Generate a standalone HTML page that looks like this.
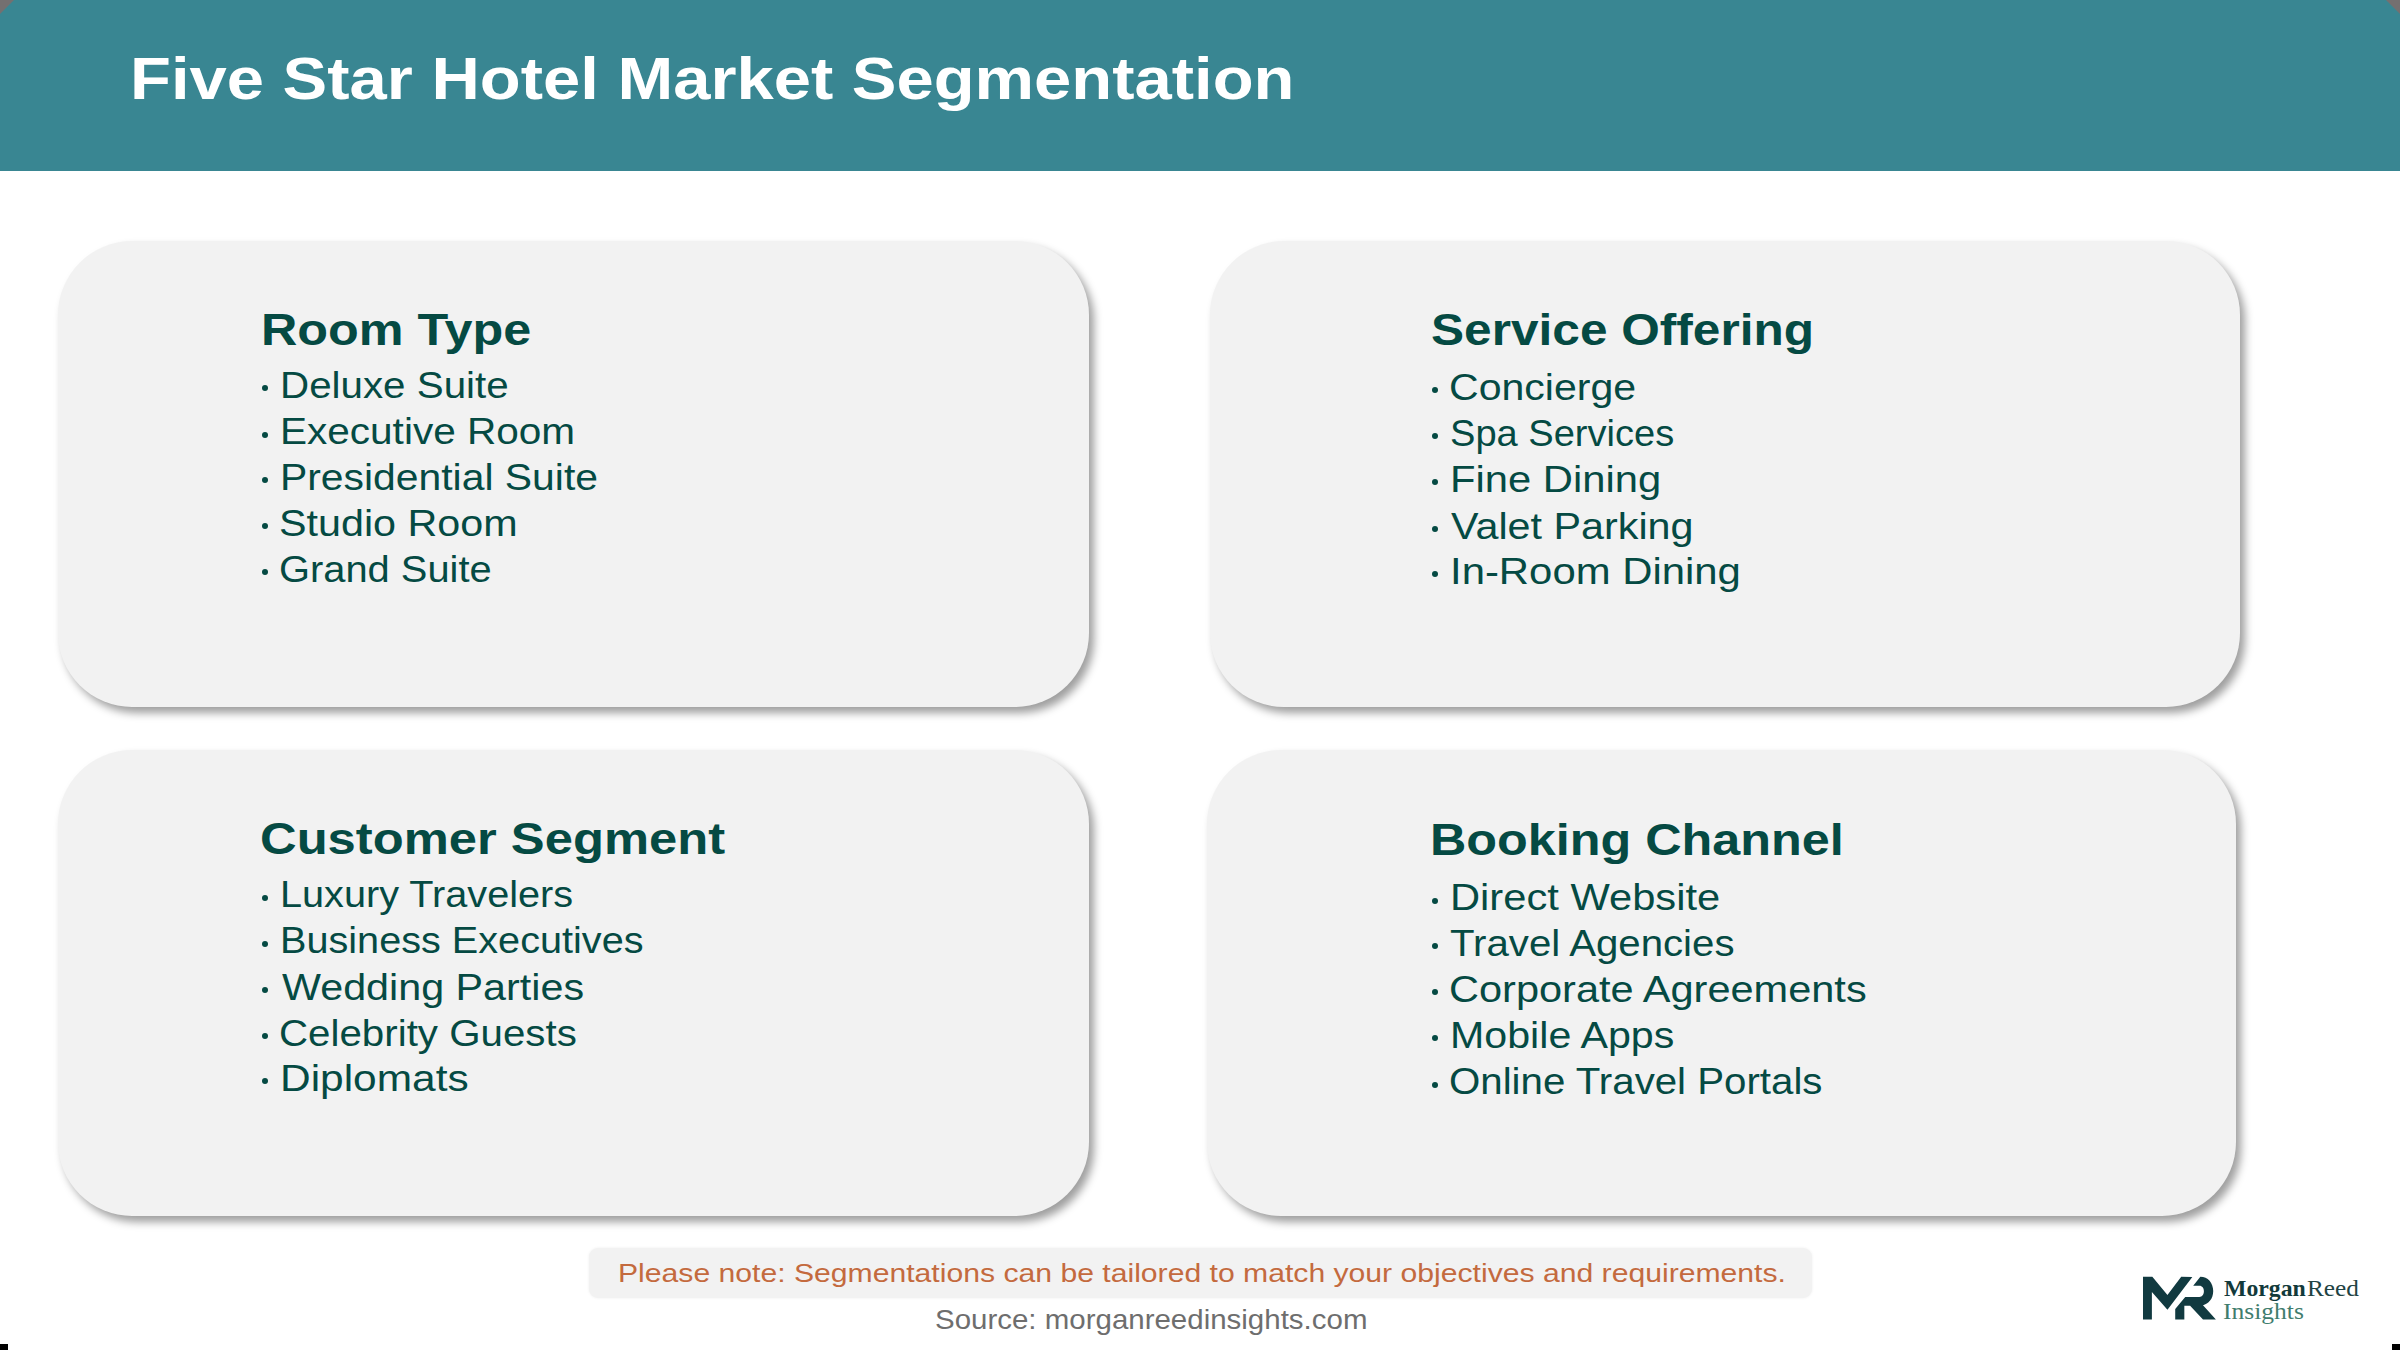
<!DOCTYPE html>
<html><head><meta charset="utf-8"><style>
html,body{margin:0;padding:0;}
body{width:2400px;height:1350px;position:relative;overflow:hidden;background:#fff;font-family:"Liberation Sans",sans-serif;}
.t{position:absolute;white-space:nowrap;transform-origin:0 0;}
.card{position:absolute;background:#f2f2f2;border-radius:74px;box-shadow:5px 6px 8px rgba(0,0,0,0.38);}
.dot{position:absolute;width:6px;height:6px;border-radius:50%;background:#054a43;}
.note{position:absolute;left:589px;top:1248px;width:1223px;height:50px;background:#f2f2f2;border-radius:9px;box-shadow:0 0 3px rgba(0,0,0,0.07);}
</style></head><body>
<div style="position:absolute;left:0;top:0;width:2400px;height:171px;background:#398692"></div>
<div class="t" style="left:130.2px;top:49px;font-family:'Liberation Sans',sans-serif;font-weight:bold;font-size:59.5px;line-height:59.5px;color:#ffffff;transform:scaleX(1.1252);">Five Star Hotel Market Segmentation</div>
<div class="card" style="left:58px;top:241px;width:1031px;height:466px"></div>
<div class="card" style="left:1210px;top:241px;width:1030px;height:466px"></div>
<div class="card" style="left:58px;top:750px;width:1031px;height:466px"></div>
<div class="card" style="left:1207px;top:750px;width:1029px;height:466px"></div>
<div class="t" style="left:260.65px;top:306.6px;font-family:'Liberation Sans',sans-serif;font-weight:bold;font-size:45px;line-height:45px;color:#054a43;transform:scaleX(1.1177);">Room Type</div>
<div class="t" style="left:1430.5px;top:306.6px;font-family:'Liberation Sans',sans-serif;font-weight:bold;font-size:45px;line-height:45px;color:#054a43;transform:scaleX(1.102);">Service Offering</div>
<div class="t" style="left:259.95px;top:816.4px;font-family:'Liberation Sans',sans-serif;font-weight:bold;font-size:45px;line-height:45px;color:#054a43;transform:scaleX(1.1273);">Customer Segment</div>
<div class="t" style="left:1430.45px;top:817px;font-family:'Liberation Sans',sans-serif;font-weight:bold;font-size:45px;line-height:45px;color:#054a43;transform:scaleX(1.1179);">Booking Channel</div>
<div class="t" style="left:280.07px;top:366.8px;font-family:'Liberation Sans',sans-serif;font-weight:normal;font-size:37.5px;line-height:37.5px;color:#054a43;transform:scaleX(1.0755);">Deluxe Suite</div>
<div class="dot" style="left:262.2px;top:385.0px"></div>
<div class="t" style="left:280.06px;top:413.4px;font-family:'Liberation Sans',sans-serif;font-weight:normal;font-size:37.5px;line-height:37.5px;color:#054a43;transform:scaleX(1.0806);">Executive Room</div>
<div class="dot" style="left:262.2px;top:431.6px"></div>
<div class="t" style="left:280.03px;top:459px;font-family:'Liberation Sans',sans-serif;font-weight:normal;font-size:37.5px;line-height:37.5px;color:#054a43;transform:scaleX(1.0895);">Presidential Suite</div>
<div class="dot" style="left:262.2px;top:477.2px"></div>
<div class="t" style="left:279.4px;top:505px;font-family:'Liberation Sans',sans-serif;font-weight:normal;font-size:37.5px;line-height:37.5px;color:#054a43;transform:scaleX(1.1005);">Studio Room</div>
<div class="dot" style="left:262.2px;top:523.2px"></div>
<div class="t" style="left:279.47px;top:550.8px;font-family:'Liberation Sans',sans-serif;font-weight:normal;font-size:37.5px;line-height:37.5px;color:#054a43;transform:scaleX(1.0629);">Grand Suite</div>
<div class="dot" style="left:262.2px;top:569.0px"></div>
<div class="t" style="left:1449.41px;top:369px;font-family:'Liberation Sans',sans-serif;font-weight:normal;font-size:37.5px;line-height:37.5px;color:#054a43;transform:scaleX(1.0946);">Concierge</div>
<div class="dot" style="left:1432.2px;top:387.2px"></div>
<div class="t" style="left:1449.57px;top:414.6px;font-family:'Liberation Sans',sans-serif;font-weight:normal;font-size:37.5px;line-height:37.5px;color:#054a43;transform:scaleX(1.0151);">Spa Services</div>
<div class="dot" style="left:1432.2px;top:432.8px"></div>
<div class="t" style="left:1449.96px;top:461px;font-family:'Liberation Sans',sans-serif;font-weight:normal;font-size:37.5px;line-height:37.5px;color:#054a43;transform:scaleX(1.1136);">Fine Dining</div>
<div class="dot" style="left:1432.2px;top:479.2px"></div>
<div class="t" style="left:1451.0px;top:508px;font-family:'Liberation Sans',sans-serif;font-weight:normal;font-size:37.5px;line-height:37.5px;color:#054a43;transform:scaleX(1.1009);">Valet Parking</div>
<div class="dot" style="left:1432.2px;top:526.2px"></div>
<div class="t" style="left:1449.95px;top:553px;font-family:'Liberation Sans',sans-serif;font-weight:normal;font-size:37.5px;line-height:37.5px;color:#054a43;transform:scaleX(1.1165);">In-Room Dining</div>
<div class="dot" style="left:1432.2px;top:571.2px"></div>
<div class="t" style="left:280.13px;top:876.3px;font-family:'Liberation Sans',sans-serif;font-weight:normal;font-size:37.5px;line-height:37.5px;color:#054a43;transform:scaleX(1.0575);">Luxury Travelers</div>
<div class="dot" style="left:262.2px;top:894.5px"></div>
<div class="t" style="left:280.13px;top:922.3px;font-family:'Liberation Sans',sans-serif;font-weight:normal;font-size:37.5px;line-height:37.5px;color:#054a43;transform:scaleX(1.0571);">Business Executives</div>
<div class="dot" style="left:262.2px;top:940.5px"></div>
<div class="t" style="left:281.6px;top:968.6px;font-family:'Liberation Sans',sans-serif;font-weight:normal;font-size:37.5px;line-height:37.5px;color:#054a43;transform:scaleX(1.1004);">Wedding Parties</div>
<div class="dot" style="left:262.2px;top:986.8px"></div>
<div class="t" style="left:279.45px;top:1014.6px;font-family:'Liberation Sans',sans-serif;font-weight:normal;font-size:37.5px;line-height:37.5px;color:#054a43;transform:scaleX(1.0745);">Celebrity Guests</div>
<div class="dot" style="left:262.2px;top:1032.8px"></div>
<div class="t" style="left:279.9px;top:1060px;font-family:'Liberation Sans',sans-serif;font-weight:normal;font-size:37.5px;line-height:37.5px;color:#054a43;transform:scaleX(1.1319);">Diplomats</div>
<div class="dot" style="left:262.2px;top:1078.2px"></div>
<div class="t" style="left:1449.97px;top:879.4px;font-family:'Liberation Sans',sans-serif;font-weight:normal;font-size:37.5px;line-height:37.5px;color:#054a43;transform:scaleX(1.1113);">Direct Website</div>
<div class="dot" style="left:1432.2px;top:897.6px"></div>
<div class="t" style="left:1449.93px;top:925px;font-family:'Liberation Sans',sans-serif;font-weight:normal;font-size:37.5px;line-height:37.5px;color:#054a43;transform:scaleX(1.0719);">Travel Agencies</div>
<div class="dot" style="left:1432.2px;top:943.2px"></div>
<div class="t" style="left:1449.39px;top:971px;font-family:'Liberation Sans',sans-serif;font-weight:normal;font-size:37.5px;line-height:37.5px;color:#054a43;transform:scaleX(1.107);">Corporate Agreements</div>
<div class="dot" style="left:1432.2px;top:989.2px"></div>
<div class="t" style="left:1450.01px;top:1016.8px;font-family:'Liberation Sans',sans-serif;font-weight:normal;font-size:37.5px;line-height:37.5px;color:#054a43;transform:scaleX(1.098);">Mobile Apps</div>
<div class="dot" style="left:1432.2px;top:1035.0px"></div>
<div class="t" style="left:1449.45px;top:1063.4px;font-family:'Liberation Sans',sans-serif;font-weight:normal;font-size:37.5px;line-height:37.5px;color:#054a43;transform:scaleX(1.073);">Online Travel Portals</div>
<div class="dot" style="left:1432.2px;top:1081.6px"></div>
<div class="note"></div>
<div class="t" style="left:617.53px;top:1260.3px;font-family:'Liberation Sans',sans-serif;font-weight:normal;font-size:26.5px;line-height:26.5px;color:#c46a3e;transform:scaleX(1.1375);">Please note: Segmentations can be tailored to match your objectives and requirements.</div>
<div class="t" style="left:935.43px;top:1306.1px;font-family:'Liberation Sans',sans-serif;font-weight:normal;font-size:27.5px;line-height:27.5px;color:#6e6e6e;transform:scaleX(1.0716);">Source: morganreedinsights.com</div>
<div class="t" style="left:2223.6px;top:1276.6px;font-family:'Liberation Serif',serif;font-weight:bold;font-size:23.5px;line-height:23.5px;color:#123a3b;transform:scaleX(1.0111);">Morgan</div>
<div class="t" style="left:2306.92px;top:1276.6px;font-family:'Liberation Serif',serif;font-weight:normal;font-size:23.5px;line-height:23.5px;color:#1f4444;transform:scaleX(1.0766);">Reed</div>
<div class="t" style="left:2223.21px;top:1300.4px;font-family:'Liberation Serif',serif;font-weight:normal;font-size:23.5px;line-height:23.5px;color:#3f7d6e;transform:scaleX(1.0863);">Insights</div>
<svg style="position:absolute;left:0;top:0" width="2400" height="1350"><g transform="translate(2135,1268) scale(0.044444)" fill="#113a40"><polygon points="180,195 390,195 730,610 1040,195 1290,200 730,940 380,540 380,1160 180,1160"/><path d="M1470,195 C1640,195 1760,330 1760,520 C1760,700 1650,810 1530,840 L1820,1160 L1530,1160 L1240,850 L1110,850 L1110,1160 L905,1160 L905,920 L1130,650 L1450,650 C1510,650 1550,600 1550,525 C1550,450 1510,400 1450,400 L1310,400 Z"/></g><polygon points="0,0 14,0 0,14" fill="#747070"/><polygon points="2400,0 2386,0 2400,14" fill="#747070"/><rect x="0" y="1344" width="8" height="6" fill="#000"/><rect x="2392" y="1344" width="8" height="6" fill="#000"/></svg>
</body></html>
